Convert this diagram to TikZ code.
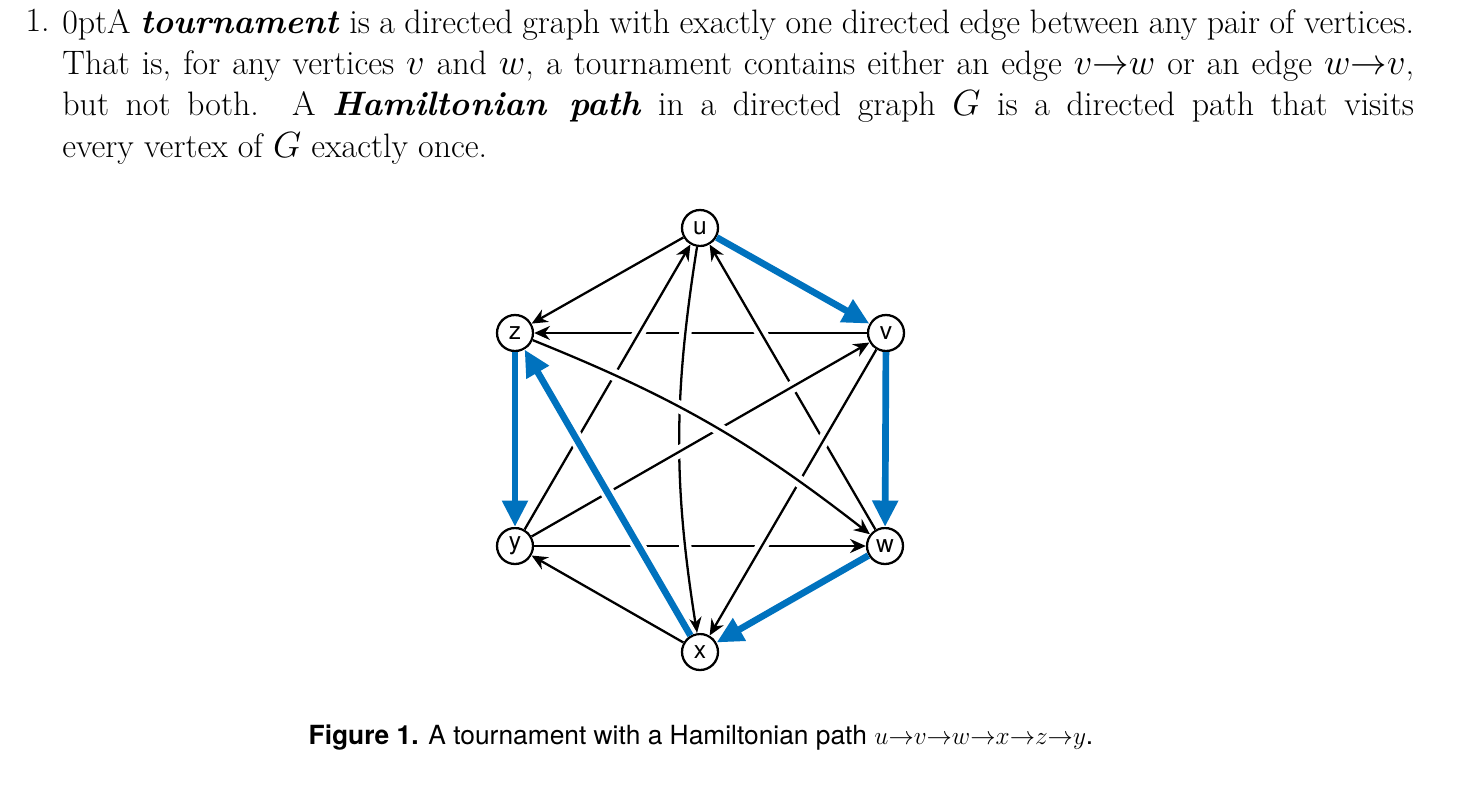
\documentclass[tikz,border=0pt]{standalone}
\usepackage{amsmath, amssymb}
\usepackage{fontspec}
\newfontfamily\heros{TeX Gyre Heros}
\usetikzlibrary{arrows.meta}
\definecolor{pathblue}{RGB}{0,114,190}

\begin{document}
\begin{tikzpicture}[x=0.02cm, y=-0.02cm,
    vertex/.style={circle, draw, line width=1.3pt, fill=white, minimum size=0.72cm, inner sep=0pt, font=\heros\fontsize{14}{14}\selectfont},
    edge/.style={line width=1.3pt, -{Stealth[length=9pt, width=8pt]}, preaction={draw, white, line width=7pt, -}},
    hpath/.style={line width=3.8pt, pathblue, -{Triangle[length=15pt, width=14pt]}, preaction={draw, white, line width=8pt, -}}]
    % Page frame
    \useasboundingbox (0,0) rectangle (1476,799);

    % Problem statement
    \node[anchor=north east, inner sep=0pt, font=\fontsize{19.3}{23.5}\selectfont] (num) at (50,9) {1.};
    \node[anchor=north west, inner sep=0pt, text width=27.04cm, align=justify,
          font=\fontsize{19.3}{23.5}\selectfont\hyphenpenalty=10000] (text) at (62,9)
        {A \textbf{\textit{tournament}} is a directed graph with exactly one directed edge between any pair of vertices.\linebreak
         That is, for any vertices $v$ and $w$, a tournament contains either an edge $v{\to}w$ or an edge $w{\to}v$,\linebreak
         but not both.\ \ A \textbf{\textit{Hamiltonian path}} in a directed graph $G$ is a directed path that visits\linebreak
         every vertex of $G$ exactly once.};

    % Vertices
    \node[vertex] (u) at (700,228) {u};
    \node[vertex] (v) at (886,333) {v};
    \node[vertex] (w) at (885,546) {w};
    \node[vertex] (x) at (700,652) {x};
    \node[vertex] (y) at (515,546) {y};
    \node[vertex] (z) at (515,333) {z};

    % Edges, lowest first
    \draw[edge] (v) -- (z);
    \draw[edge] (y) -- (w);
    \draw[edge] (w) -- (u);
    \draw[edge] (u) to[bend right=9] (x);
    \draw[edge] (y) -- (u);
    \draw[edge] (v) -- (x);
    \draw[edge] (y) -- (v);
    \draw[edge] (z) to[bend left=8] (w);
    \draw[edge] (u) -- (z);
    \draw[edge] (x) -- (y);

    % Hamiltonian path
    \draw[hpath] (u) -- (v);
    \draw[hpath] (v) -- (w);
    \draw[hpath] (w) -- (x);
    \draw[hpath] (x) -- (z);
    \draw[hpath] (z) -- (y);

    % Caption
    \node[font=\heros\fontsize{15}{17}\selectfont, inner sep=0pt] (cap) at (701,738)
        {\textbf{Figure 1.} A tournament with a Hamiltonian path $u{\to}v{\to}w{\to}x{\to}z{\to}y$.};
\end{tikzpicture}
\end{document}
